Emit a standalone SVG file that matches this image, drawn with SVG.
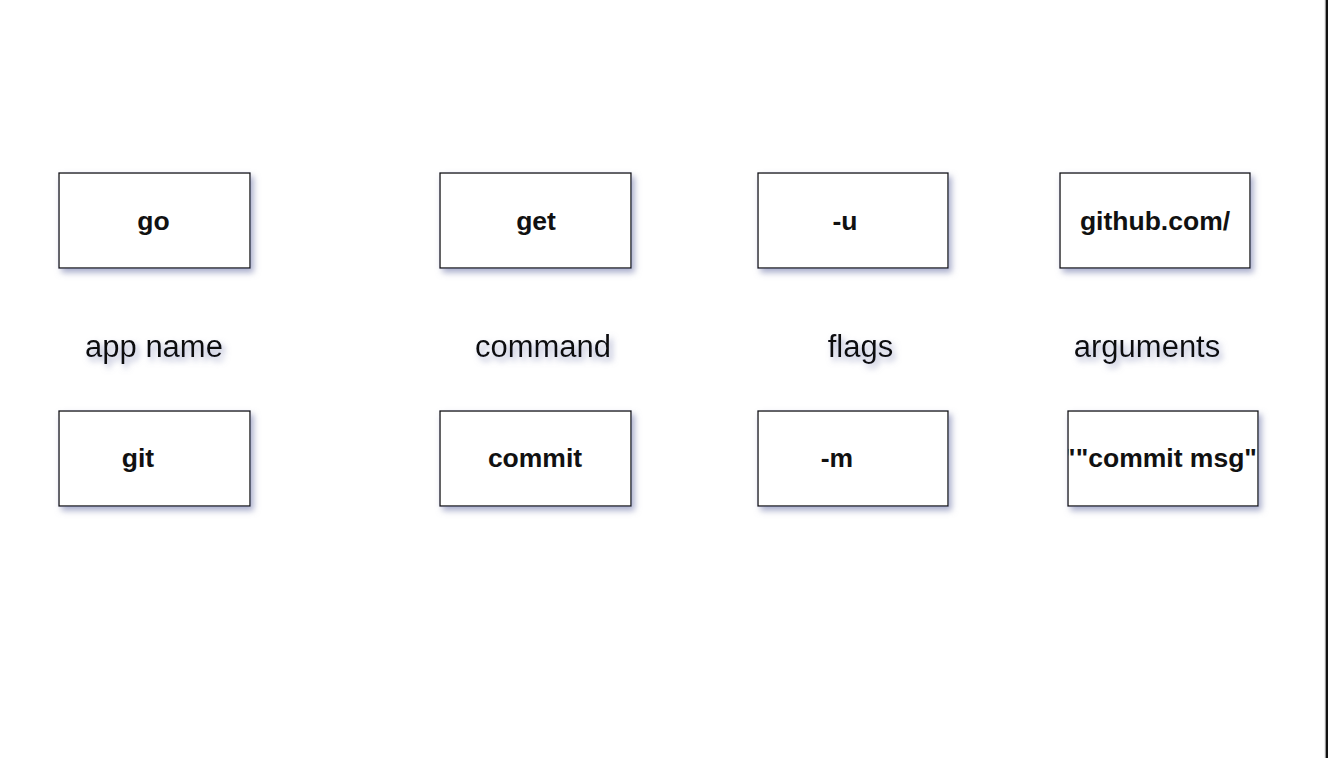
<svg xmlns="http://www.w3.org/2000/svg" width="1328" height="758" viewBox="0 0 1328 758">
<defs>
<style>
.box{fill:#ffffff;stroke:#111111;stroke-width:1.3}
.t{font-family:"Liberation Sans",Arial,Helvetica,sans-serif;font-weight:bold;font-size:26.5px;fill:#111111;text-anchor:middle}
.lbl{font-family:"Liberation Sans",Arial,Helvetica,sans-serif;font-size:31px;fill:#111111;text-anchor:middle}
</style>
<filter id="sh" x="-20%" y="-20%" width="150%" height="160%">
<feDropShadow dx="3" dy="4" stdDeviation="3" flood-color="#7a82b0" flood-opacity="0.65"/>
</filter>
<clipPath id="clipMsg"><rect x="1068" y="411" width="190" height="95"/></clipPath>
</defs>
<rect x="0" y="0" width="1328" height="758" fill="#ffffff"/>
<rect x="1325.5" y="0" width="2.5" height="758" fill="#111111"/>
<rect x="1324.8" y="0" width="0.7" height="758" fill="#aaaaaa"/>
<g id="connectors"></g>
<g id="node-go"><rect class="box" x="59" y="173" width="191" height="95" filter="url(#sh)"/><text class="t" x="153.5" y="230">go</text></g>
<g id="node-get"><rect class="box" x="440" y="173" width="191" height="95" filter="url(#sh)"/><text class="t" x="536" y="230">get</text></g>
<g id="node-u"><rect class="box" x="758" y="173" width="190" height="95" filter="url(#sh)"/><text class="t" x="845" y="230">-u</text></g>
<g id="node-github"><rect class="box" x="1060" y="173" width="190" height="95" filter="url(#sh)"/><text class="t" x="1155" y="230">github.com/</text></g>
<g id="label-appname"><text class="lbl" x="154" y="357" filter="url(#sh)">app name</text></g>
<g id="label-command"><text class="lbl" x="543" y="357" filter="url(#sh)">command</text></g>
<g id="label-flags"><text class="lbl" x="860.5" y="357" filter="url(#sh)">flags</text></g>
<g id="label-arguments"><text class="lbl" x="1147" y="357" filter="url(#sh)">arguments</text></g>
<g id="node-git"><rect class="box" x="59" y="411" width="191" height="95" filter="url(#sh)"/><text class="t" x="138" y="467">git</text></g>
<g id="node-commit"><rect class="box" x="440" y="411" width="191" height="95" filter="url(#sh)"/><text class="t" x="535" y="467">commit</text></g>
<g id="node-m"><rect class="box" x="758" y="411" width="190" height="95" filter="url(#sh)"/><text class="t" x="837" y="467">-m</text></g>
<g id="node-msg"><rect class="box" x="1068" y="411" width="190" height="95" filter="url(#sh)"/><text class="t" x="1160" y="467" clip-path="url(#clipMsg)">""commit msg"</text></g>
</svg>
